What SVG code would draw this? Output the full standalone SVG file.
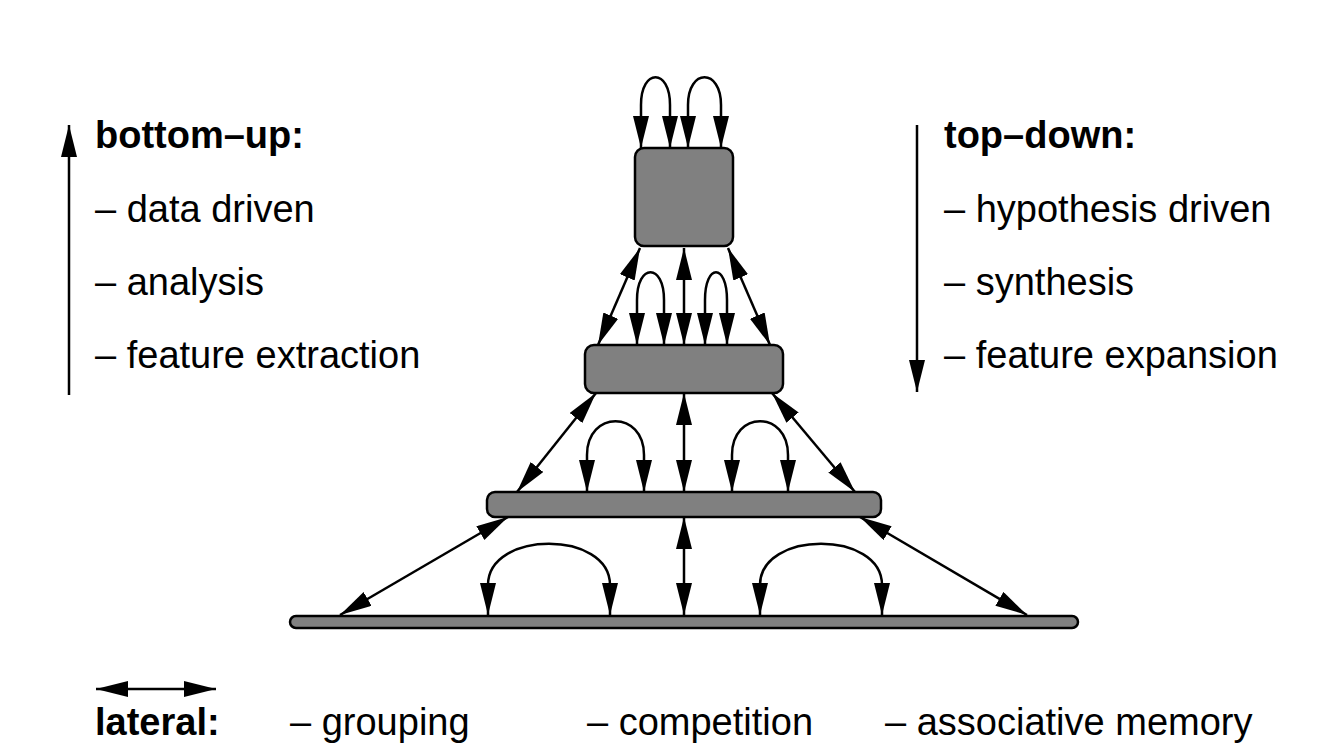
<svg xmlns="http://www.w3.org/2000/svg" width="1321" height="748" viewBox="0 0 1321 748">
<defs>
<marker id="a" markerUnits="userSpaceOnUse" markerWidth="34" markerHeight="18" refX="32" refY="8" orient="auto-start-reverse"><path d="M0,0 L32,8 L0,16 z" fill="#000"/></marker>
<style>
.n{fill:#808080;stroke:#000;stroke-width:2.5}
.c path{fill:none;stroke:#000;stroke-width:2.5;marker-start:url(#a);marker-end:url(#a)}
.t{font-family:"Liberation Sans",Arial,sans-serif;font-size:38px;fill:#000}
.b{font-weight:bold}
</style>
</defs>
<rect width="1321" height="748" fill="#fff"/>
<g id="level1"><rect class="n" x="635" y="148" width="98" height="98" rx="9"/></g>
<g id="level2"><rect class="n" x="585" y="345" width="198" height="48" rx="9"/></g>
<g id="level3"><rect class="n" x="487" y="492" width="394" height="25" rx="8"/></g>
<g id="level4"><rect class="n" x="290" y="616" width="788" height="12" rx="6"/></g>
<g class="c" id="connectors">
<path d="M641,148 L641,105 C641,68 670,68 670,105 L670,148"/>
<path d="M688,148 L688,105 C688,68 721,68 721,105 L721,148"/>
<path d="M640,248 L598,345"/>
<path d="M684,248 L684,345"/>
<path d="M728,248 L770,345"/>
<path d="M637,345 L637,300 C637,263 664,263 664,300 L664,345"/>
<path d="M705,345 L705,300 C705,263 727,263 727,300 L727,345"/>
<path d="M596,393 L517,492"/>
<path d="M684,393 L684,492"/>
<path d="M772,393 L855,492"/>
<path d="M587,492 L587,455 C587,410 644,410 644,455 L644,492"/>
<path d="M732,492 L732,455 C732,410 788,410 788,455 L788,492"/>
<path d="M508,517 L340,615"/>
<path d="M684,517 L684,615"/>
<path d="M860,517 L1027,615"/>
<path d="M488,615 L488,585 C488,530 610,530 610,585 L610,615"/>
<path d="M760,615 L760,585 C760,530 882,530 882,585 L882,615"/>
<path d="M69,395 L69,125" style="marker-start:none"/>
<path d="M917,125 L917,392" style="marker-start:none"/>
<path d="M96,689 L216,689"/>
</g>
<g id="labels">
<text class="t b" x="95" y="148">bottom–up:</text>
<text class="t" x="95" y="222">– data driven</text>
<text class="t" x="95" y="295">– analysis</text>
<text class="t" x="95" y="368">– feature extraction</text>
<text class="t b" x="944" y="148">top–down:</text>
<text class="t" x="944" y="222">– hypothesis driven</text>
<text class="t" x="944" y="295">– synthesis</text>
<text class="t" x="944" y="368">– feature expansion</text>
<text class="t b" x="95" y="735">lateral:</text>
<text class="t" x="290" y="735">– grouping</text>
<text class="t" x="587" y="735">– competition</text>
<text class="t" x="885" y="735">– associative memory</text>
</g>
</svg>
